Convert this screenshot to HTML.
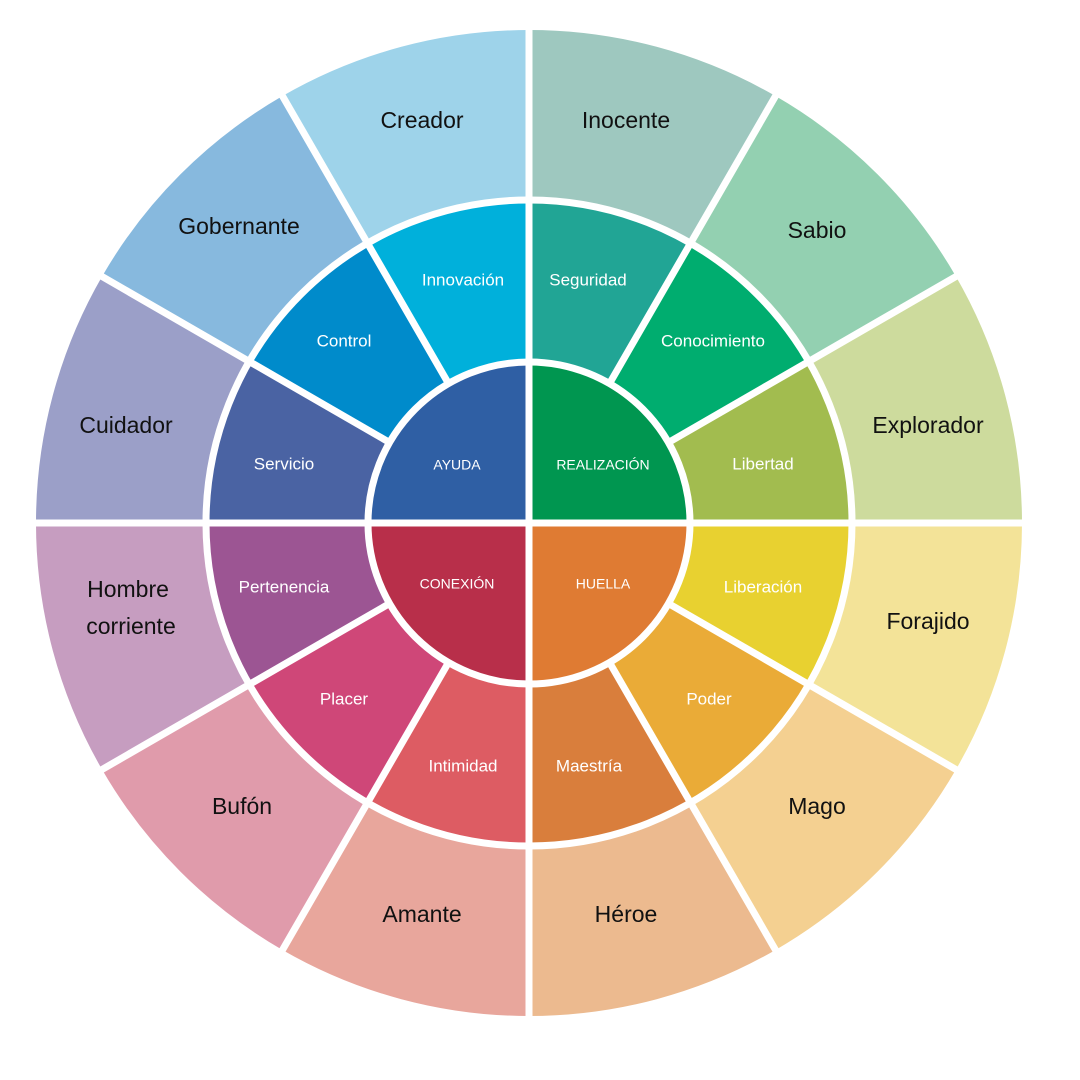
<!DOCTYPE html>
<html><head><meta charset="utf-8"><style>
html,body{margin:0;padding:0;background:#fff}
svg{display:block}
text{font-family:"Liberation Sans",sans-serif;text-anchor:middle;dominant-baseline:middle}
.o{font-size:23px;fill:#111}
.m{font-size:17px;fill:#fff}
.i{font-size:14px;fill:#fff}
</style></head><body>
<svg width="1080" height="1080" viewBox="0 0 1080 1080">
<g fill="none" stroke-width="170">
<circle cx="529" cy="523" r="408" stroke="#f3e398" stroke-dasharray="213.6 3000" transform="rotate(0 529 523)"/>
<circle cx="529" cy="523" r="408" stroke="#f4d091" stroke-dasharray="213.6 3000" transform="rotate(30 529 523)"/>
<circle cx="529" cy="523" r="408" stroke="#ecba8f" stroke-dasharray="213.6 3000" transform="rotate(60 529 523)"/>
<circle cx="529" cy="523" r="408" stroke="#e8a69c" stroke-dasharray="213.6 3000" transform="rotate(90 529 523)"/>
<circle cx="529" cy="523" r="408" stroke="#e09bab" stroke-dasharray="213.6 3000" transform="rotate(120 529 523)"/>
<circle cx="529" cy="523" r="408" stroke="#c69dc0" stroke-dasharray="213.6 3000" transform="rotate(150 529 523)"/>
<circle cx="529" cy="523" r="408" stroke="#9b9fc8" stroke-dasharray="213.6 3000" transform="rotate(180 529 523)"/>
<circle cx="529" cy="523" r="408" stroke="#87b9de" stroke-dasharray="213.6 3000" transform="rotate(210 529 523)"/>
<circle cx="529" cy="523" r="408" stroke="#9ed3ea" stroke-dasharray="213.6 3000" transform="rotate(240 529 523)"/>
<circle cx="529" cy="523" r="408" stroke="#9ec8bf" stroke-dasharray="213.6 3000" transform="rotate(270 529 523)"/>
<circle cx="529" cy="523" r="408" stroke="#93d0b1" stroke-dasharray="213.6 3000" transform="rotate(300 529 523)"/>
<circle cx="529" cy="523" r="408" stroke="#cddb9d" stroke-dasharray="213.6 3000" transform="rotate(330 529 523)"/>
</g>
<g fill="none" stroke-width="163">
<circle cx="529" cy="523" r="241.5" stroke="#e8d130" stroke-dasharray="126.5 3000" transform="rotate(0 529 523)"/>
<circle cx="529" cy="523" r="241.5" stroke="#eaab37" stroke-dasharray="126.5 3000" transform="rotate(30 529 523)"/>
<circle cx="529" cy="523" r="241.5" stroke="#d97e3c" stroke-dasharray="126.5 3000" transform="rotate(60 529 523)"/>
<circle cx="529" cy="523" r="241.5" stroke="#dd5c63" stroke-dasharray="126.5 3000" transform="rotate(90 529 523)"/>
<circle cx="529" cy="523" r="241.5" stroke="#cf4778" stroke-dasharray="126.5 3000" transform="rotate(120 529 523)"/>
<circle cx="529" cy="523" r="241.5" stroke="#9c5593" stroke-dasharray="126.5 3000" transform="rotate(150 529 523)"/>
<circle cx="529" cy="523" r="241.5" stroke="#4a63a3" stroke-dasharray="126.5 3000" transform="rotate(180 529 523)"/>
<circle cx="529" cy="523" r="241.5" stroke="#008bcb" stroke-dasharray="126.5 3000" transform="rotate(210 529 523)"/>
<circle cx="529" cy="523" r="241.5" stroke="#00b0db" stroke-dasharray="126.5 3000" transform="rotate(240 529 523)"/>
<circle cx="529" cy="523" r="241.5" stroke="#21a595" stroke-dasharray="126.5 3000" transform="rotate(270 529 523)"/>
<circle cx="529" cy="523" r="241.5" stroke="#00ad6f" stroke-dasharray="126.5 3000" transform="rotate(300 529 523)"/>
<circle cx="529" cy="523" r="241.5" stroke="#a2bc4f" stroke-dasharray="126.5 3000" transform="rotate(330 529 523)"/>
</g>
<g fill="none" stroke-width="161">
<circle cx="529" cy="523" r="80.5" stroke="#df7b33" stroke-dasharray="126.5 3000" transform="rotate(0 529 523)"/>
<circle cx="529" cy="523" r="80.5" stroke="#b82f4a" stroke-dasharray="126.5 3000" transform="rotate(90 529 523)"/>
<circle cx="529" cy="523" r="80.5" stroke="#2f5fa4" stroke-dasharray="126.5 3000" transform="rotate(180 529 523)"/>
<circle cx="529" cy="523" r="80.5" stroke="#009650" stroke-dasharray="126.5 3000" transform="rotate(270 529 523)"/>
</g>
<g stroke="#fff" stroke-width="7" fill="none">
<circle cx="529" cy="523" r="161"/>
<circle cx="529" cy="523" r="323"/>
<line x1="529" y1="523" x2="1030" y2="523"/>
<line x1="529" y1="523" x2="1030" y2="523" transform="rotate(90 529 523)"/>
<line x1="529" y1="523" x2="1030" y2="523" transform="rotate(180 529 523)"/>
<line x1="529" y1="523" x2="1030" y2="523" transform="rotate(270 529 523)"/>
<line x1="689" y1="523" x2="1030" y2="523" transform="rotate(30 529 523)"/>
<line x1="689" y1="523" x2="1030" y2="523" transform="rotate(60 529 523)"/>
<line x1="689" y1="523" x2="1030" y2="523" transform="rotate(120 529 523)"/>
<line x1="689" y1="523" x2="1030" y2="523" transform="rotate(150 529 523)"/>
<line x1="689" y1="523" x2="1030" y2="523" transform="rotate(210 529 523)"/>
<line x1="689" y1="523" x2="1030" y2="523" transform="rotate(240 529 523)"/>
<line x1="689" y1="523" x2="1030" y2="523" transform="rotate(300 529 523)"/>
<line x1="689" y1="523" x2="1030" y2="523" transform="rotate(330 529 523)"/>
</g>
<g class="o">
<text class="o" x="422" y="122">Creador</text>
<text class="o" x="626" y="122">Inocente</text>
<text class="o" x="239" y="228">Gobernante</text>
<text class="o" x="817" y="232">Sabio</text>
<text class="o" x="126" y="427">Cuidador</text>
<text class="o" x="928" y="427">Explorador</text>
<text class="o" x="128" y="591">Hombre</text>
<text class="o" x="131" y="628">corriente</text>
<text class="o" x="928" y="623">Forajido</text>
<text class="o" x="242" y="808">Bufón</text>
<text class="o" x="817" y="808">Mago</text>
<text class="o" x="422" y="916">Amante</text>
<text class="o" x="626" y="916">Héroe</text>
</g>
<text class="m" x="463" y="281">Innovación</text>
<text class="m" x="588" y="281">Seguridad</text>
<text class="m" x="344" y="342">Control</text>
<text class="m" x="713" y="342">Conocimiento</text>
<text class="m" x="284" y="465">Servicio</text>
<text class="m" x="763" y="465">Libertad</text>
<text class="m" x="284" y="588">Pertenencia</text>
<text class="m" x="763" y="588">Liberación</text>
<text class="m" x="344" y="700">Placer</text>
<text class="m" x="709" y="700">Poder</text>
<text class="m" x="463" y="767">Intimidad</text>
<text class="m" x="589" y="767">Maestría</text>
<text class="i" x="457" y="466">AYUDA</text>
<text class="i" x="603" y="466">REALIZACIÓN</text>
<text class="i" x="457" y="585">CONEXIÓN</text>
<text class="i" x="603" y="585">HUELLA</text>
</svg>
</body></html>
